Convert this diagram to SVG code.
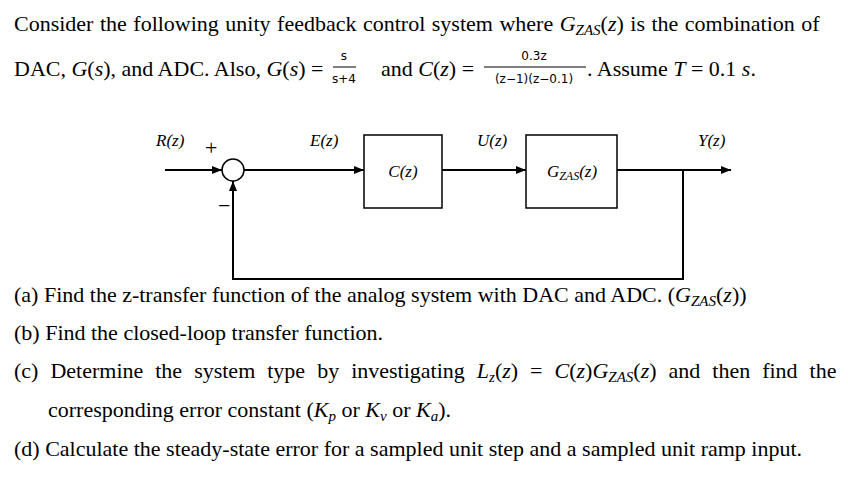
<svg xmlns="http://www.w3.org/2000/svg" width="848" height="483" viewBox="0 0 848 483">
<defs>
<marker id="ar" viewBox="0 0 10 10" refX="10" refY="5" markerWidth="10" markerHeight="10" markerUnits="userSpaceOnUse" orient="auto"><path d="M0,1 L10,5 L0,9 z" fill="#000"/></marker>
<style>
text{font-family:"Liberation Serif",serif;font-size:22px;fill:#000}
.i{font-style:italic}
.s{font-family:"DejaVu Sans",sans-serif;font-size:12px}
.l{font-family:"Liberation Serif",serif;font-style:italic;font-size:17px}
.b{fill:#fff;stroke:#000;stroke-width:1.5}
.c{stroke:#000;stroke-width:2;fill:none}
</style>
</defs>
<rect width="848" height="483" fill="#fff"/>
<text x="14" y="31" word-spacing="1">Consider the following unity feedback control system where <tspan class="i">G</tspan><tspan class="i" font-size="15" dy="4">ZAS</tspan><tspan dy="-4">(</tspan><tspan class="i">z</tspan>) is the combination of</text>
<text x="14" y="76">DAC, <tspan class="i">G</tspan>(<tspan class="i">s</tspan>), and ADC. Also,  <tspan class="i">G</tspan>(<tspan class="i">s</tspan>) =</text>
<text class="s" x="344" y="60" text-anchor="middle">s</text>
<line x1="333" y1="67" x2="356" y2="67" stroke="#000" stroke-width="1"/>
<text class="s" x="344" y="83" text-anchor="middle">s+4</text>
<text x="381" y="76">and <tspan class="i">C</tspan>(<tspan class="i">z</tspan>) =</text>
<text class="s" x="534" y="60" text-anchor="middle">0.3z</text>
<line x1="484" y1="67" x2="586" y2="67" stroke="#000" stroke-width="1"/>
<text class="s" x="534" y="83" text-anchor="middle">(z−1)(z−0.1)</text>
<text x="587" y="76">. Assume <tspan class="i">T</tspan> = 0.1 <tspan class="i">s</tspan>.</text>
<g id="sum"><circle cx="233" cy="170" r="11" class="b"/></g>
<g id="C"><rect x="364" y="135" width="78" height="73" class="b"/><text class="l" x="403" y="177" text-anchor="middle">C(z)</text></g>
<g id="G"><rect x="526" y="135" width="91" height="73" class="b"/><text class="l" x="572" y="177" text-anchor="middle">G<tspan font-size="12" dy="3">ZAS</tspan><tspan dy="-3">(z)</tspan></text></g>
<g id="connectors">
<line x1="165" y1="170" x2="222" y2="170" class="c" marker-end="url(#ar)"/>
<line x1="244" y1="170" x2="364" y2="170" class="c" marker-end="url(#ar)"/>
<line x1="442" y1="170" x2="526" y2="170" class="c" marker-end="url(#ar)"/>
<line x1="617" y1="170" x2="731" y2="170" class="c" marker-end="url(#ar)"/>
<polyline points="683,170 683,279 233,279 233,181" class="c" stroke-width="1.5" marker-end="url(#ar)"/>
</g>
<g id="labels">
<text class="l" x="156" y="146">R(z)</text>
<text x="205" y="155" font-size="13">+</text>
<text x="218" y="213" font-size="16">−</text>
<text class="l" x="310" y="146">E(z)</text>
<text class="l" x="477" y="146">U(z)</text>
<text class="l" x="698" y="146">Y(z)</text>
</g>
<text x="14" y="302">(a) Find the z-transfer function of the analog system with DAC and ADC. (<tspan class="i">G</tspan><tspan class="i" font-size="15" dy="4">ZAS</tspan><tspan dy="-4">(</tspan><tspan class="i">z</tspan>))</text>
<text x="14" y="340">(b) Find the closed-loop transfer function.</text>
<text x="14" y="378" word-spacing="6.5">(c) Determine the system type by investigating <tspan class="i">L</tspan><tspan class="i" font-size="15" dy="4">z</tspan><tspan dy="-4">(</tspan><tspan class="i">z</tspan>) = <tspan class="i">C</tspan>(<tspan class="i">z</tspan>)<tspan class="i">G</tspan><tspan class="i" font-size="15" dy="4">ZAS</tspan><tspan dy="-4">(</tspan><tspan class="i">z</tspan>) and then find the</text>
<text x="48" y="417">corresponding error constant (<tspan class="i">K</tspan><tspan class="i" font-size="15" dy="4">p</tspan><tspan dy="-4"> or </tspan><tspan class="i">K</tspan><tspan class="i" font-size="15" dy="4">v</tspan><tspan dy="-4"> or </tspan><tspan class="i">K</tspan><tspan class="i" font-size="15" dy="4">a</tspan><tspan dy="-4">).</tspan></text>
<text x="14" y="456">(d) Calculate the steady-state error for a sampled unit step and a sampled unit ramp input.</text>
</svg>
